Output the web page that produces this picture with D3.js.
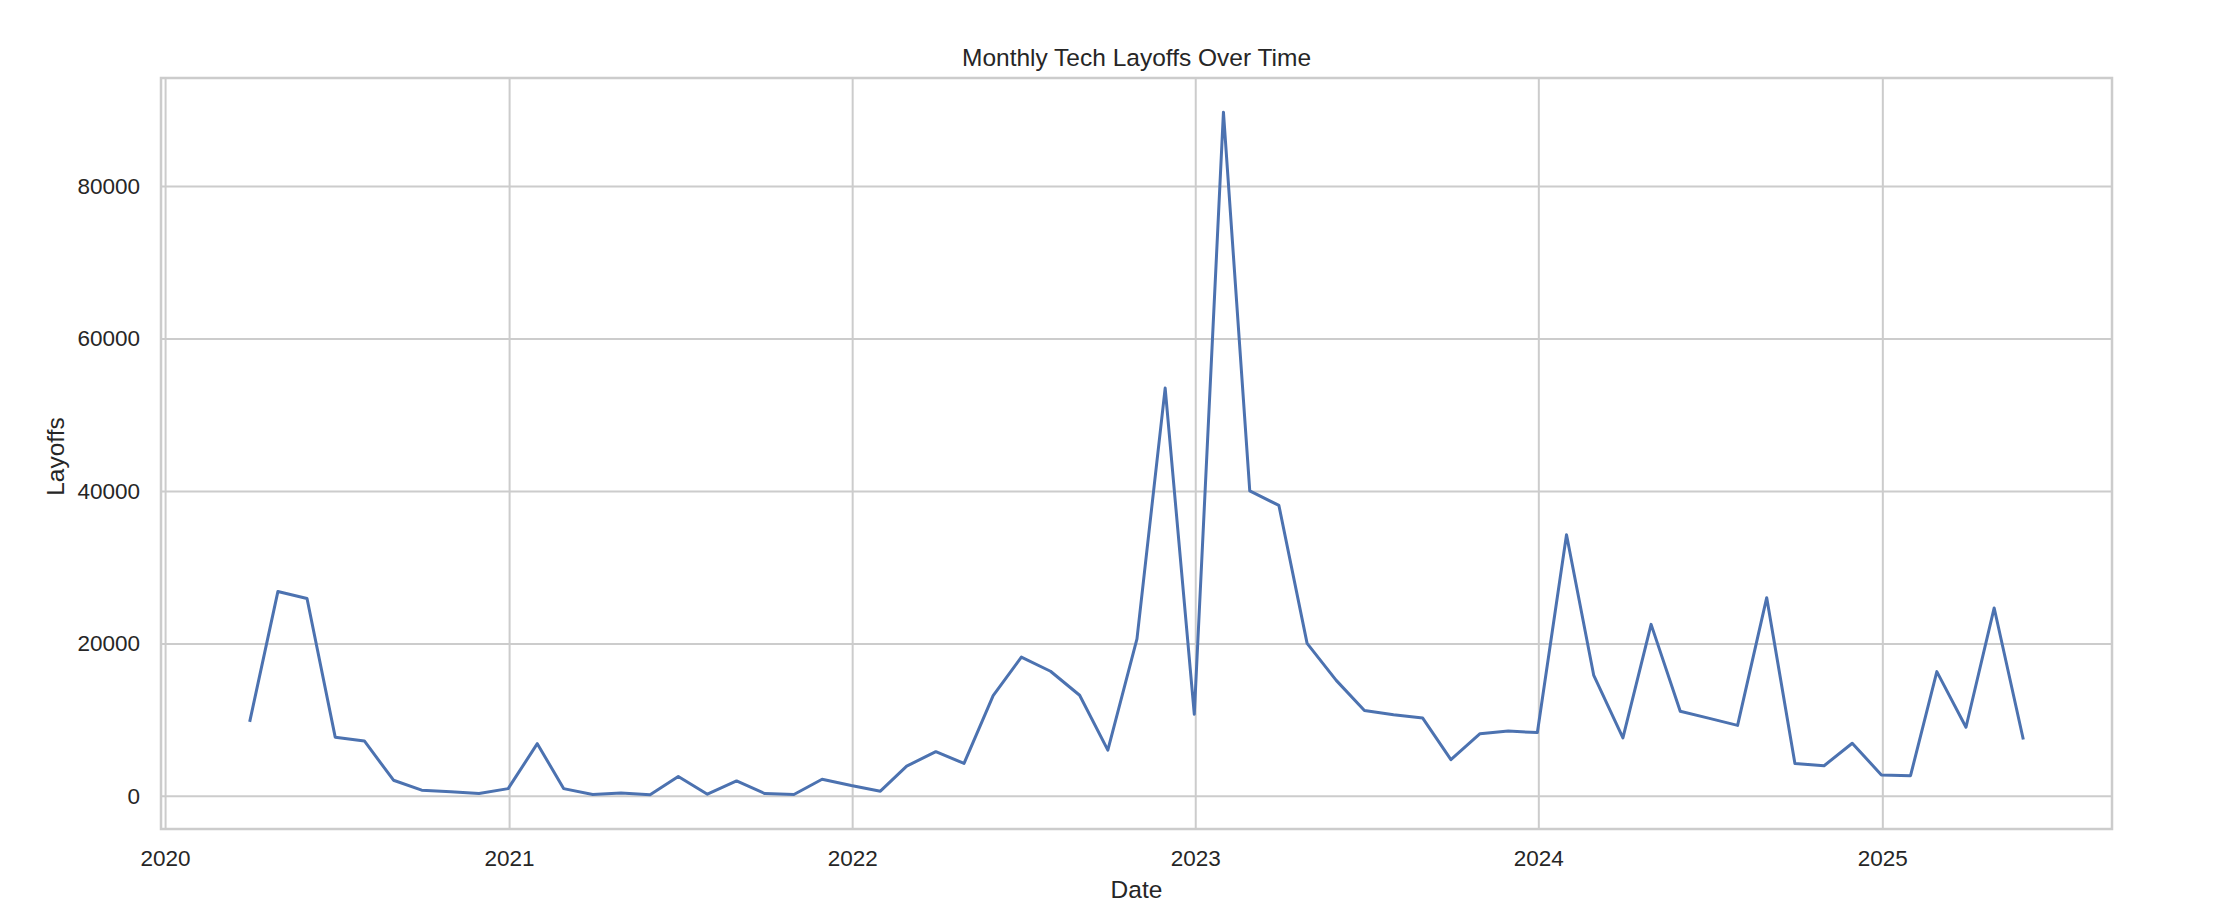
<!DOCTYPE html>
<html lang="en">
<head>
    <meta charset="UTF-8">
    <title>Monthly Tech Layoffs Over Time</title>
    <script src="https://d3js.org/d3.v7.min.js"></script>
    <style>
        body {
            margin: 0;
            background-color: white;
            font-family: "Liberation Sans", Arial, sans-serif;
        }
        svg {
            display: block;
        }
    </style>
</head>
<body>
<svg></svg>
<script>
    // month-end dates (monthly resample)
    const months = [
        "2020-03-31", "2020-04-30", "2020-05-31", "2020-06-30", "2020-07-31", "2020-08-31",
        "2020-09-30", "2020-10-31", "2020-11-30", "2020-12-31",
        "2021-01-31", "2021-02-28", "2021-03-31", "2021-04-30", "2021-05-31", "2021-06-30",
        "2021-07-31", "2021-08-31", "2021-09-30", "2021-10-31", "2021-11-30", "2021-12-31",
        "2022-01-31", "2022-02-28", "2022-03-31", "2022-04-30", "2022-05-31", "2022-06-30",
        "2022-07-31", "2022-08-31", "2022-09-30", "2022-10-31", "2022-11-30", "2022-12-31",
        "2023-01-31", "2023-02-28", "2023-03-31", "2023-04-30", "2023-05-31", "2023-06-30",
        "2023-07-31", "2023-08-31", "2023-09-30", "2023-10-31", "2023-11-30", "2023-12-31",
        "2024-01-31", "2024-02-29", "2024-03-31", "2024-04-30", "2024-05-31", "2024-06-30",
        "2024-07-31", "2024-08-31", "2024-09-30", "2024-10-31", "2024-11-30", "2024-12-31",
        "2025-01-31", "2025-02-28", "2025-03-31", "2025-04-30", "2025-05-31"
    ];

    const layoffs = [
        9700, 26800, 25900, 7700, 7200, 2050, 750, 550, 300, 950,
        6850, 950, 170, 390, 130, 2550, 220, 1950, 300, 175, 2180, 1350,
        610, 3900, 5800, 4250, 13150, 18200, 16350, 13200, 6000, 20600, 53500, 10700,
        89700, 40000, 38100, 20000, 15150, 11200, 10650, 10200, 4750, 8150, 8500, 8300,
        34250, 15800, 7600, 22500, 11100, 10200, 9250, 26000, 4250, 3950, 6900, 2750,
        2650, 16300, 9000, 24650, 7400
    ];

    const yTicks = [0, 20000, 40000, 60000, 80000];
    const xTickYears = ["2020", "2021", "2022", "2023", "2024", "2025"];

    const W = 2226, H = 924;
    const margin = {top: 78, right: 114, bottom: 95, left: 161};
    const width = W - margin.left - margin.right;
    const height = H - margin.top - margin.bottom;

    const gridColor = "#cccccc";
    const textColor = "#262626";

    const parseDate = d3.timeParse("%Y-%m-%d");
    const data = months.map((m, i) => ({date: parseDate(m), value: layoffs[i]}));

    const svg = d3.select("svg")
        .attr("width", W)
        .attr("height", H);

    svg.append("rect")
        .attr("width", W)
        .attr("height", H)
        .attr("fill", "white");

    const g = svg.append("g")
        .attr("transform", `translate(${margin.left},${margin.top})`);

    // matplotlib-like 5% margins
    const xExt = d3.extent(data, d => d.date);
    const xPad = (xExt[1] - xExt[0]) * 0.05;
    const x = d3.scaleTime()
        .domain([new Date(+xExt[0] - xPad), new Date(+xExt[1] + xPad)])
        .range([0, width]);

    const yExt = d3.extent(data, d => d.value);
    const yPad = (yExt[1] - yExt[0]) * 0.05;
    const y = d3.scaleLinear()
        .domain([yExt[0] - yPad, yExt[1] + yPad])
        .range([height, 0]);

    const xTicks = xTickYears.map(yr => parseDate(yr + "-01-01"));

    // grid
    g.append("g")
        .attr("class", "x-grid")
        .attr("transform", `translate(0,${height})`)
        .call(d3.axisBottom(x).tickValues(xTicks).tickSize(-height).tickFormat(d3.timeFormat("%Y")).tickPadding(21))
        .call(ax => ax.select(".domain").remove())
        .call(ax => ax.selectAll("line").attr("stroke", gridColor).attr("stroke-width", 2))
        .call(ax => ax.selectAll("text")
            .attr("fill", textColor)
            .attr("font-size", "22.5px")
            .attr("font-family", "'Liberation Sans', Arial, sans-serif"));

    g.append("g")
        .attr("class", "y-grid")
        .call(d3.axisLeft(y).tickValues(yTicks).tickSize(-width).tickFormat(d3.format("d")).tickPadding(21))
        .call(ax => ax.select(".domain").remove())
        .call(ax => ax.selectAll("line").attr("stroke", gridColor).attr("stroke-width", 2))
        .call(ax => ax.selectAll("text")
            .attr("fill", textColor)
            .attr("font-size", "22.5px")
            .attr("font-family", "'Liberation Sans', Arial, sans-serif"));

    // frame
    g.append("rect")
        .attr("width", width)
        .attr("height", height)
        .attr("fill", "none")
        .attr("stroke", gridColor)
        .attr("stroke-width", 2.5);

    // the line
    const line = d3.line()
        .x(d => x(d.date))
        .y(d => y(d.value));

    g.append("path")
        .datum(data)
        .attr("fill", "none")
        .attr("stroke", "#4c72b0")
        .attr("stroke-width", 3)
        .attr("stroke-linejoin", "round")
        .attr("stroke-linecap", "butt")
        .attr("d", line);

    // title and axis labels
    svg.append("text")
        .attr("x", margin.left + width / 2)
        .attr("y", 66)
        .attr("text-anchor", "middle")
        .attr("font-size", "24.5px")
        .attr("fill", textColor)
        .text("Monthly Tech Layoffs Over Time");

    svg.append("text")
        .attr("x", margin.left + width / 2)
        .attr("y", 898)
        .attr("text-anchor", "middle")
        .attr("font-size", "24.5px")
        .attr("fill", textColor)
        .text("Date");

    svg.append("text")
        .attr("transform", `translate(64,${margin.top + height / 2 + 3}) rotate(-90)`)
        .attr("text-anchor", "middle")
        .attr("font-size", "24.5px")
        .attr("fill", textColor)
        .text("Layoffs");
</script>
</body>
</html>
